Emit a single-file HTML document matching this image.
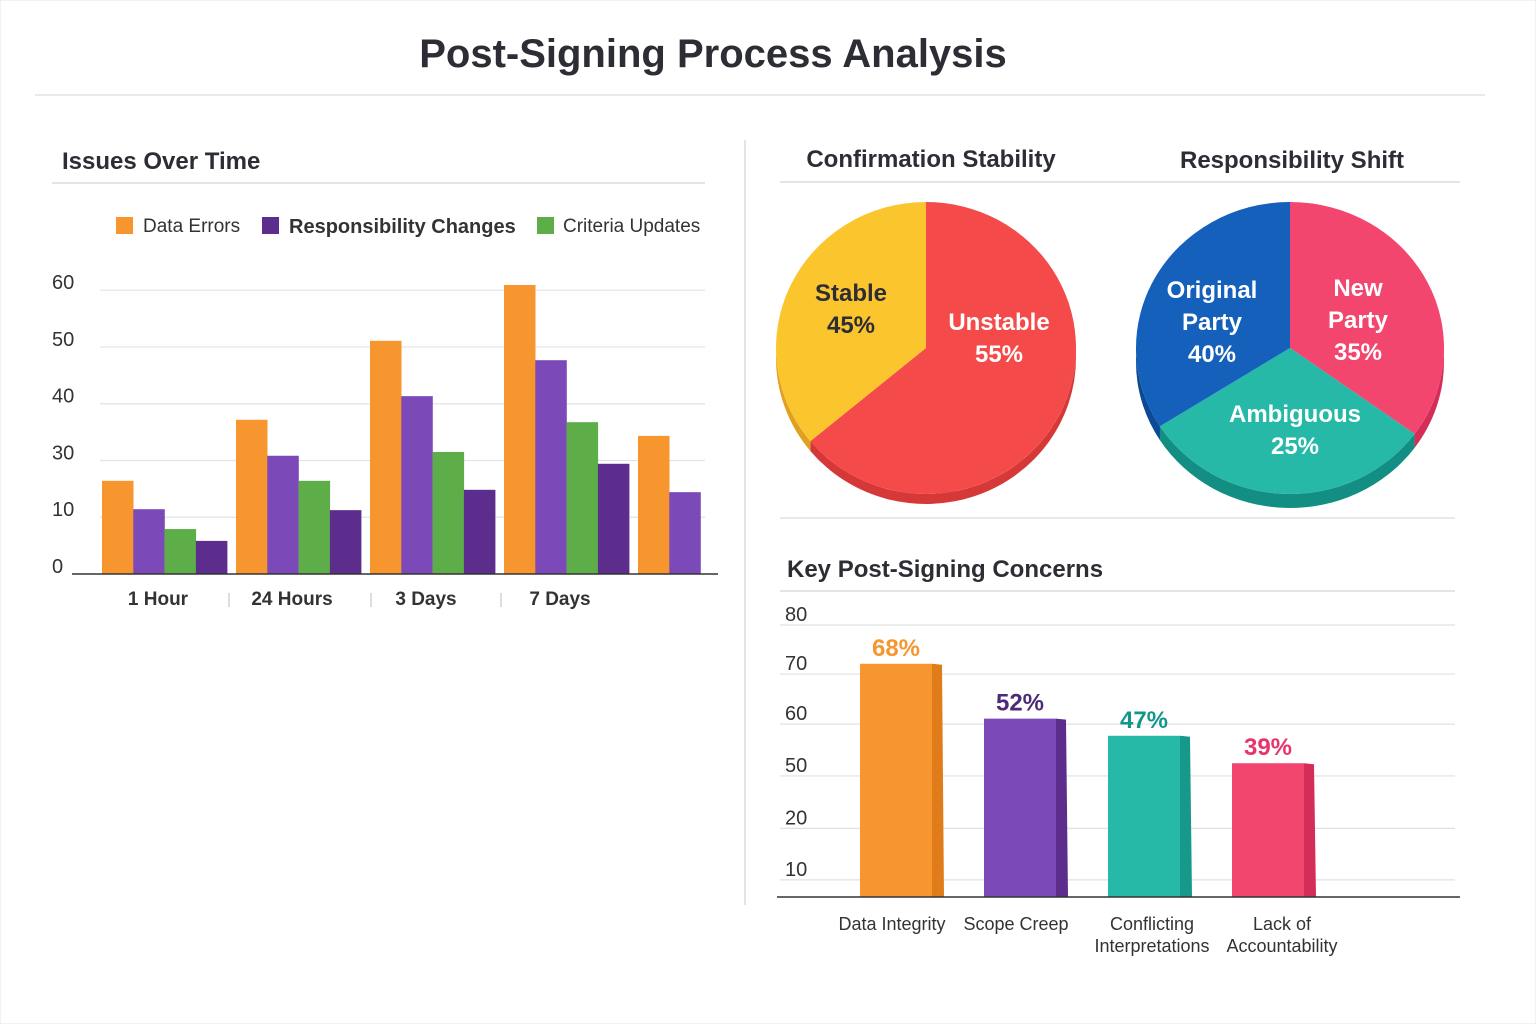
<!DOCTYPE html>
<html><head><meta charset="utf-8">
<style>
html,body{margin:0;padding:0;background:#fff;}
svg{display:block;font-family:"Liberation Sans",sans-serif;}
</style></head>
<body>
<svg id="c" width="1536" height="1024" viewBox="0 0 1536 1024">
<rect x="0" y="0" width="1536" height="1024" fill="#fff" stroke="#e6e6e6"/>
<text x="713" y="67" text-anchor="middle" font-size="40" font-weight="bold" fill="#2d2d35">Post-Signing Process Analysis</text>
<line x1="35" y1="95" x2="1485" y2="95" stroke="#e2e2e2" stroke-width="1.5"/>
<line x1="745" y1="140" x2="745" y2="905" stroke="#dcdcdc" stroke-width="1.5"/>

<text x="62" y="169" font-size="24" font-weight="bold" fill="#2d2d35">Issues Over Time</text>
<line x1="52" y1="183" x2="705" y2="183" stroke="#dcdcdc" stroke-width="1.5"/>
<g>
<rect x="116" y="217" width="17" height="17" fill="#F7962F"/>
<text x="143" y="232" font-size="19" fill="#333">Data Errors</text>
<rect x="262" y="217" width="17" height="17" fill="#5C2D8C"/>
<text x="289" y="233" font-size="20" font-weight="bold" fill="#333">Responsibility Changes</text>
<rect x="537" y="217" width="17" height="17" fill="#5DAE48"/>
<text x="563" y="232" font-size="19" fill="#333">Criteria Updates</text>
</g>
<g id="bars1"></g>

<text x="931" y="167" text-anchor="middle" font-size="24" font-weight="bold" fill="#2d2d35">Confirmation Stability</text>
<text x="1292" y="168" text-anchor="middle" font-size="24" font-weight="bold" fill="#2d2d35">Responsibility Shift</text>
<line x1="780" y1="182" x2="1460" y2="182" stroke="#dcdcdc" stroke-width="1.5"/>
<g id="pies"></g>
<line x1="780" y1="518" x2="1455" y2="518" stroke="#e2e2e2" stroke-width="1.5"/>

<text x="787" y="577" font-size="24" font-weight="bold" fill="#2d2d35">Key Post-Signing Concerns</text>
<line x1="780" y1="591" x2="1455" y2="591" stroke="#dcdcdc" stroke-width="1.5"/>
<g id="bars2"></g>
</svg>
<script>
// ---- Issues Over Time data ----
const issueCategories = ["1 Hour","24 Hours","3 Days","7 Days",""];
const dataErrors = [19.7,32.6,49.3,61.1,29.2];
const responsibilityChanges = [13.7,25,37.6,45.2,17.3];
const criteriaUpdates = [9.5,19.7,25.8,32.1,null];
const otherChanges = [7,13.5,17.8,23.3,null];
const issueTickValues = [0,12,24,36,48,60];
const issueTickLabels = ["0","10","30","40","50","60"];

// ---- Pie data (slice sizes as drawn; printed percentages as labelled) ----
const stabilityLabels = ["Unstable","Stable"];
const stabilityValues = [64,36];
const stabilityPrinted = ["55%","45%"];
const shiftLabels = ["New Party","Ambiguous","Original Party"];
const shiftValues = [35,31,34];
const shiftPrinted = ["35%","25%","40%"];

// ---- Concerns data ----
const concernCategories = [["Data Integrity"],["Scope Creep"],["Conflicting","Interpretations"],["Lack of","Accountability"]];
const concernValues = [68,52,47,39];
const concernTickValues = [5,20,35.3,50.4,65,79.3];
const concernTickLabels = ["10","20","50","60","70","80"];

const NS="http://www.w3.org/2000/svg";
function mk(tag,attrs,parent,txt){const e=document.createElementNS(NS,tag);for(const k in attrs)e.setAttribute(k,attrs[k]);if(txt!==undefined)e.textContent=txt;parent.appendChild(e);return e;}

// Chart 1
(function(){
 const g=document.getElementById('bars1');
 const y=v=>574-v*4.73;
 const bx=(i,j)=>102+i*134+j*31.3;
 issueTickValues.forEach((v,i)=>{
  if(v>0){const l=mk('line',{x1:100,y1:y(v),x2:705,y2:y(v),stroke:'#e3e3e3','stroke-width':1.2},g);
  
  }
  const t=mk('text',{x:52,y:y(v)-1,'font-size':20,fill:'#333'},g,issueTickLabels[i]);
  
  
 });
 const series=[[dataErrors,'#F7962F','data-errors'],[responsibilityChanges,'#7B4AB8','responsibility-changes'],[criteriaUpdates,'#5DAE48','criteria-updates'],[otherChanges,'#5C2D8C','other-changes']];
 issueCategories.forEach((c,i)=>{
  let j=0;
  series.forEach(s=>{
   const v=s[0][i]; if(v===null||v===undefined) return;
   const r=mk('rect',{x:bx(i,j),y:y(v),width:31.5,height:574-y(v),fill:s[1]},g);
   
   
   j++;
  });
  if(c){const t=mk('text',{x:102+i*134+56,y:605,'text-anchor':'middle','font-size':19,'font-weight':'bold',fill:'#333'},g,c);
  
  }
 });
 [229,371,501].forEach(x=>{mk('line',{x1:x,y1:593,x2:x,y2:607,stroke:'#bbb','stroke-width':1},g);});
 const b=mk('line',{x1:72,y1:574,x2:718,y2:574,stroke:'#333','stroke-width':1.5},g);
 
 
})();

// Pies
function pie(cx,cy,rx,ry,depth,values,labels,printed,colors,darks,labelPos,name){
 const g=document.getElementById('pies');
 const tot=values.reduce((a,b)=>a+b,0);
 const pt=a=>[cx+rx*Math.cos(a),cy+ry*Math.sin(a)];
 let a0=-Math.PI/2; const arcs=[];
 values.forEach((v,i)=>{const a1=a0+v/tot*2*Math.PI;arcs.push([a0,a1]);a0=a1;});
 arcs.forEach(([s,e],i)=>{
  const segs=[[Math.max(s,0),Math.min(e,Math.PI)]];
  if(e>2*Math.PI){segs.push([Math.max(s,2*Math.PI),Math.min(e,3*Math.PI)]);}
  segs.forEach(([p,q])=>{ if(q<=p) return;
   const [x1,y1]=pt(p),[x2,y2]=pt(q);
   const d=`M${x1},${y1} A${rx},${ry} 0 0 1 ${x2},${y2} L${x2},${y2+depth} A${rx},${ry} 0 0 0 ${x1},${y1+depth} Z`;
   mk('path',{d:d,fill:darks[i]},g);
  });
 });
 arcs.forEach(([s,e],i)=>{
  const [x1,y1]=pt(s),[x2,y2]=pt(e);
  const large=(e-s)>Math.PI?1:0;
  const p=mk('path',{d:`M${cx},${cy} L${x1},${y1} A${rx},${ry} 0 ${large} 1 ${x2},${y2} Z`,fill:colors[i]},g);
  
  
 });
 arcs.forEach((a,i)=>{
  const lp=labelPos[i];
  const lines=lp.lines.concat([printed[i]]);
  const t=mk('text',{x:lp.x,y:lp.y,'text-anchor':'middle','font-size':24,'font-weight':'bold',fill:lp.fill},g);
  
  
  lines.forEach((ln,k)=>{mk('tspan',{x:lp.x,dy:k===0?0:32},t,ln);});
 });
}
pie(926,348,150,146,10,stabilityValues,stabilityLabels,stabilityPrinted,['#F44B4A','#FBC52E'],['#D63838','#E0A020'],
 [{x:999,y:330,lines:['Unstable'],fill:'#fff'},{x:851,y:301,lines:['Stable'],fill:'#2d2d35'}],'stability');
pie(1290,348,154,146,14,shiftValues,shiftLabels,shiftPrinted,['#F2466F','#27B9A8','#1460BA'],['#D42E58','#128F82','#0D4A95'],
 [{x:1358,y:296,lines:['New','Party'],fill:'#fff'},{x:1295,y:422,lines:['Ambiguous'],fill:'#fff'},{x:1212,y:298,lines:['Original','Party'],fill:'#fff'}],'shift');

// Chart 3
(function(){
 const g=document.getElementById('bars2');
 const y=v=>897-v*3.43;
 concernTickValues.forEach((v,i)=>{
  const l=mk('line',{x1:780,y1:y(v),x2:1455,y2:y(v),stroke:'#e0e0e0','stroke-width':1.2},g);
  
  
  const t=mk('text',{x:785,y:y(v)-4,'font-size':20,fill:'#333'},g,concernTickLabels[i]);
  
  
 });
 const cols=['#F7962F','#7B4AB8','#27B9A8','#F2466F'];
 const sides=['#E07D1A','#5C2D8C','#16988A','#D42E58'];
 const lbl=['#F7962F','#4B2A7B','#12968A','#E8336B'];
 concernValues.forEach((v,i)=>{
  const x=860+i*124;
  const r=mk('rect',{x:x,y:y(v),width:72,height:897-y(v),fill:cols[i]},g);
  
  
  mk('path',{d:`M${x+72},${y(v)} L${x+82},${y(v)+1} L${x+84},897 L${x+72},897 Z`,fill:sides[i]},g);
  const t=mk('text',{x:x+36,y:y(v)-8,'text-anchor':'middle','font-size':24,'font-weight':'bold',fill:lbl[i]},g,v+'%');
  
  
  const lt=mk('text',{x:x+32,y:930,'text-anchor':'middle','font-size':18,fill:'#333'},g);
  
  
  concernCategories[i].forEach((ln,k)=>{mk('tspan',{x:x+32+(i>=2?(i===2?12:18):0),dy:k===0?0:22},lt,ln);});
 });
 const b=mk('line',{x1:777,y1:897,x2:1460,y2:897,stroke:'#333','stroke-width':1.5},g);
 
 
})();
</script>
</body></html>
